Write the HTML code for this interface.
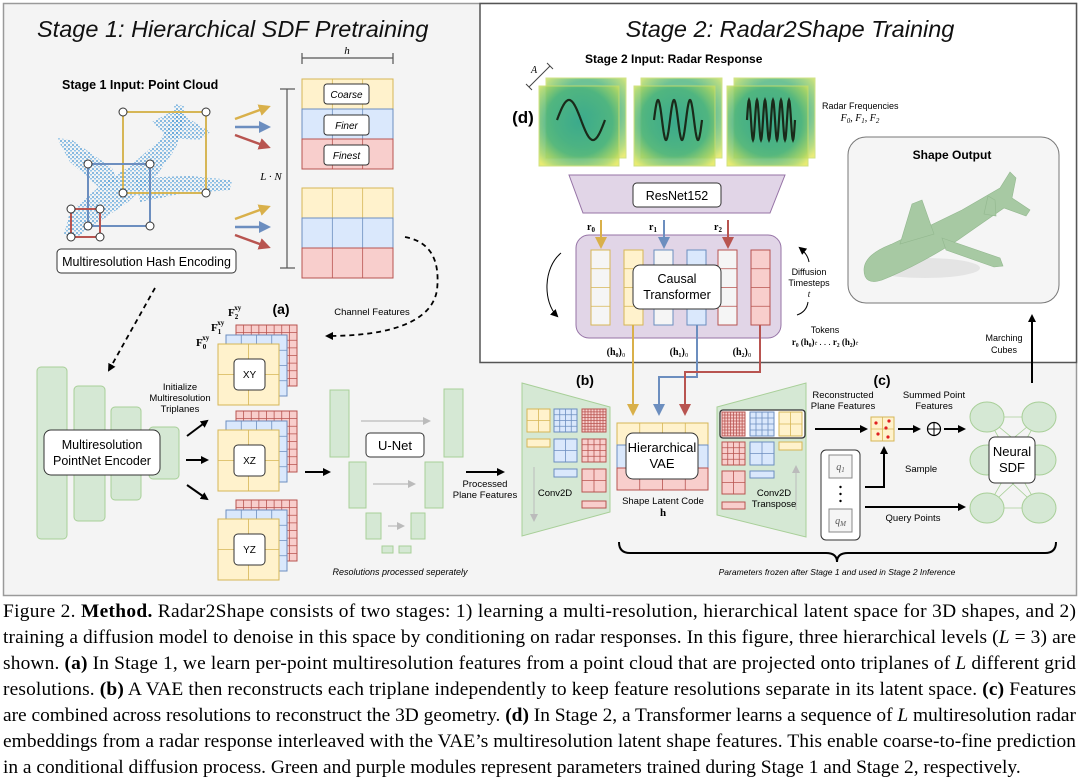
<!DOCTYPE html>
<html><head><meta charset="utf-8">
<style>
html,body{margin:0;padding:0;background:#fff;width:1080px;height:784px;overflow:hidden}
svg{display:block}
.s{font-family:"Liberation Sans",sans-serif}
.cap{font-family:"Liberation Serif",serif;font-size:19.4px;fill:#000}
</style></head><body>
<svg id="g" width="1080" height="784" viewBox="0 0 1080 784" xmlns="http://www.w3.org/2000/svg">
<defs>
<marker id="ak" markerWidth="8" markerHeight="8" refX="6" refY="4" orient="auto" markerUnits="userSpaceOnUse"><path d="M0,0 L8,4 L0,8 Z" fill="#000"/></marker>
<marker id="ag" markerWidth="8" markerHeight="8" refX="6" refY="4" orient="auto" markerUnits="userSpaceOnUse"><path d="M0,0 L8,4 L0,8 Z" fill="#bbb"/></marker>
<marker id="ay" markerWidth="12" markerHeight="12" refX="9" refY="6" orient="auto" markerUnits="userSpaceOnUse"><path d="M0,0 L12,6 L0,12 Z" fill="#d9b04a"/></marker>
<marker id="ab" markerWidth="12" markerHeight="12" refX="9" refY="6" orient="auto" markerUnits="userSpaceOnUse"><path d="M0,0 L12,6 L0,12 Z" fill="#6c8ebf"/></marker>
<marker id="ar" markerWidth="12" markerHeight="12" refX="9" refY="6" orient="auto" markerUnits="userSpaceOnUse"><path d="M0,0 L12,6 L0,12 Z" fill="#b85450"/></marker>
<radialGradient id="rad" cx="50%" cy="45%" r="70%">
<stop offset="0" stop-color="#35a88a"/><stop offset="0.6" stop-color="#4cb47c"/><stop offset="0.88" stop-color="#a9d563"/><stop offset="1" stop-color="#e4e85a"/></radialGradient>
<pattern id="pc" width="4" height="4" patternUnits="userSpaceOnUse"><circle cx="1" cy="1" r="0.9" fill="#3a8fd0"/><circle cx="3" cy="2.8" r="0.8" fill="#5aa8e0"/></pattern>
</defs>

<rect x="3.5" y="3.5" width="1073" height="592" fill="#f4f4f4" stroke="#9a9a9a" stroke-width="1.5"/>
<rect x="480" y="3.5" width="596.5" height="359" fill="#fff" stroke="#555" stroke-width="1.5"/>

<text x="37" y="37" class="s" font-size="23.5" font-style="italic" fill="#111">Stage 1: Hierarchical SDF Pretraining</text>
<text x="62" y="89" class="s" font-size="12.5" font-weight="bold">Stage 1 Input: Point Cloud</text>

<g fill="url(#pc)">
<path d="M64,234 L70,212 L100,186 L130,166 L160,140 L178,110 L186,116 L176,148 L156,176 L128,202 L96,224 L76,238 Z"/>
<path d="M57,138 L72,140 L112,168 L118,182 L100,188 L70,162 Z"/>
<path d="M135,178 L190,176 L232,180 L230,190 L180,194 L140,202 Z"/>
<path d="M152,122 L175,110 L210,132 L200,140 L170,138 Z"/>
<path d="M174,104 L184,106 L184,126 L174,128 Z"/>
</g>
<g fill="none" stroke-width="2">
<rect x="123" y="112" width="83" height="81" stroke="#d6b656"/>
<rect x="88" y="164" width="62" height="62" stroke="#6c8ebf"/>
<rect x="71" y="209" width="29" height="28" stroke="#b85450"/>
</g>
<g fill="#fff" stroke="#333" stroke-width="1">
<circle cx="123" cy="112" r="4"/><circle cx="206" cy="112" r="4"/><circle cx="206" cy="193" r="4"/><circle cx="123" cy="193" r="4"/>
<circle cx="88" cy="164" r="4"/><circle cx="150" cy="164" r="4"/><circle cx="150" cy="226" r="4"/><circle cx="88" cy="226" r="4"/>
<circle cx="71" cy="209" r="4"/><circle cx="100" cy="209" r="4"/><circle cx="100" cy="237" r="4"/><circle cx="71" cy="237" r="4"/>
</g>
<rect x="57" y="249" width="179" height="24" rx="4" fill="#fff" stroke="#333"/>
<text x="146.5" y="266" class="s" font-size="12.5" text-anchor="middle">Multiresolution Hash Encoding</text>

<g stroke-width="2.5" fill="none">
<line x1="235" y1="119" x2="268" y2="107" stroke="#d9b04a" marker-end="url(#ay)"/>
<line x1="235" y1="127" x2="268" y2="127" stroke="#6c8ebf" marker-end="url(#ab)"/>
<line x1="235" y1="135" x2="268" y2="147" stroke="#b85450" marker-end="url(#ar)"/>
<line x1="235" y1="219" x2="268" y2="207" stroke="#d9b04a" marker-end="url(#ay)"/>
<line x1="235" y1="227" x2="268" y2="227" stroke="#6c8ebf" marker-end="url(#ab)"/>
<line x1="235" y1="235" x2="268" y2="247" stroke="#b85450" marker-end="url(#ar)"/>
</g>
<g stroke="#555" stroke-width="1.2">
<line x1="287" y1="89" x2="287" y2="268"/><line x1="280" y1="89" x2="295" y2="89"/><line x1="280" y1="268" x2="295" y2="268"/>
<line x1="302" y1="58" x2="393" y2="58"/><line x1="302" y1="53" x2="302" y2="64"/><line x1="393" y1="53" x2="393" y2="64"/>
</g>
<text x="271" y="180" font-family="Liberation Serif,serif" font-style="italic" font-size="11" text-anchor="middle">L · N</text>
<text x="347" y="54" font-family="Liberation Serif,serif" font-style="italic" font-size="11" text-anchor="middle">h</text>
<g id="stacks"></g>
<g class="s" font-size="10" font-style="italic" text-anchor="middle">
<rect x="324" y="84" width="45" height="20" rx="3" fill="#fff" stroke="#333"/><text x="346.5" y="98">Coarse</text>
<rect x="324" y="115" width="45" height="20" rx="3" fill="#fff" stroke="#333"/><text x="346.5" y="129">Finer</text>
<rect x="324" y="145" width="45" height="20" rx="3" fill="#fff" stroke="#333"/><text x="346.5" y="159">Finest</text>
</g>

<path d="M155,288 L109,370" stroke="#000" stroke-width="1.8" stroke-dasharray="5,4" fill="none" marker-end="url(#ak)"/>
<path d="M405,237 C432,242 440,262 437,290 C432,322 390,336 327,336" stroke="#000" stroke-width="1.8" stroke-dasharray="5,4" fill="none" marker-end="url(#ak)"/>
<text x="372" y="315" class="s" font-size="9.5" text-anchor="middle">Channel Features</text>

<g fill="#d5e8d4" stroke="#a8cf98" stroke-width="1">
<rect x="37" y="367" width="30" height="172" rx="4"/>
<rect x="74" y="386" width="31" height="135" rx="4"/>
<rect x="111" y="407" width="30" height="93" rx="4"/>
<rect x="149" y="427" width="30" height="52" rx="4"/>
</g>
<rect x="44" y="430" width="116" height="45" rx="7" fill="#fff" stroke="#333"/>
<text x="102" y="449" class="s" font-size="12.5" text-anchor="middle">Multiresolution</text>
<text x="102" y="465" class="s" font-size="12.5" text-anchor="middle">PointNet Encoder</text>
<g class="s" font-size="9.5" text-anchor="middle"><text x="180" y="390">Initialize</text><text x="180" y="401">Multiresolution</text><text x="180" y="412">Triplanes</text></g>
<g stroke="#000" stroke-width="2" marker-end="url(#ak)">
<line x1="187" y1="436" x2="207" y2="421"/><line x1="186" y1="460" x2="207" y2="460"/><line x1="187" y1="485" x2="207" y2="499"/>
</g>
<g id="tri"></g>
<g font-family="Liberation Serif,serif" font-size="11" font-weight="bold">
<text x="196" y="346">F<tspan font-size="7" dy="3">0</tspan><tspan font-size="7" dy="-9" dx="-4">xy</tspan></text>
<text x="211" y="331">F<tspan font-size="7" dy="3">1</tspan><tspan font-size="7" dy="-9" dx="-4">xy</tspan></text>
<text x="228" y="316">F<tspan font-size="7" dy="3">2</tspan><tspan font-size="7" dy="-9" dx="-4">xy</tspan></text>
</g>
<text x="281" y="314" class="s" font-size="14" font-weight="bold" text-anchor="middle">(a)</text>

<line x1="305" y1="472" x2="329" y2="472" stroke="#000" stroke-width="2" marker-end="url(#ak)"/>
<g fill="#d5e8d4" stroke="#a8cf98">
<rect x="330" y="390" width="19" height="67"/><rect x="349" y="462" width="17" height="46"/><rect x="366" y="513" width="15" height="26"/><rect x="382" y="546" width="11" height="7"/>
<rect x="444" y="389" width="19" height="68"/><rect x="425" y="462" width="18" height="46"/><rect x="411" y="513" width="14" height="26"/><rect x="399" y="546" width="12" height="7"/>
</g>
<g stroke="#bbb" stroke-width="1.2" marker-end="url(#ag)">
<line x1="361" y1="421" x2="429" y2="421"/><line x1="373" y1="484" x2="414" y2="484"/><line x1="388" y1="526" x2="403" y2="526"/>
</g>
<rect x="366" y="433" width="58" height="24" rx="4" fill="#fff" stroke="#333"/>
<text x="395" y="450" class="s" font-size="13" text-anchor="middle">U-Net</text>
<text x="400" y="575" class="s" font-size="9" font-style="italic" text-anchor="middle">Resolutions processed seperately</text>
<line x1="466" y1="472" x2="503" y2="472" stroke="#000" stroke-width="2" marker-end="url(#ak)"/>
<g class="s" font-size="9.5" text-anchor="middle"><text x="485" y="487">Processed</text><text x="485" y="498">Plane Features</text></g>

<text x="585" y="385" class="s" font-size="14" font-weight="bold" text-anchor="middle">(b)</text>
<path d="M522,383 L610,407 L610,512 L522,536 Z" fill="#d5e8d4" stroke="#a8cf98"/>
<path d="M717,407 L806,383 L806,537 L717,515 Z" fill="#d5e8d4" stroke="#a8cf98"/>
<line x1="534" y1="467" x2="534" y2="520" stroke="#bbb" marker-end="url(#ag)"/>
<line x1="796" y1="510" x2="796" y2="467" stroke="#bbb" marker-end="url(#ag)"/>
<text x="555" y="496" class="s" font-size="9.5" text-anchor="middle">Conv2D</text>
<g class="s" font-size="9.5" text-anchor="middle"><text x="774" y="496">Conv2D</text><text x="774" y="507">Transpose</text></g>
<rect x="720" y="410" width="85" height="28" rx="3" fill="#fff" stroke="#333" stroke-width="1.3"/>
<g id="bgrid"></g>
<g id="vae"></g>
<rect x="626" y="433" width="72" height="46" rx="7" fill="#fff" stroke="#333"/>
<text x="662" y="452" class="s" font-size="13" text-anchor="middle">Hierarchical</text>
<text x="662" y="468" class="s" font-size="13" text-anchor="middle">VAE</text>
<text x="663" y="504" class="s" font-size="9.5" text-anchor="middle">Shape Latent Code</text>
<text x="663" y="516" font-family="Liberation Serif,serif" font-weight="bold" font-size="11" text-anchor="middle">h</text>

<text x="882" y="385" class="s" font-size="14" font-weight="bold" text-anchor="middle">(c)</text>
<g class="s" font-size="9.5" text-anchor="middle"><text x="843" y="398">Reconstructed</text><text x="843" y="409">Plane Features</text>
<text x="934" y="398">Summed Point</text><text x="934" y="409">Features</text></g>
<g stroke="#000" stroke-width="2" marker-end="url(#ak)">
<line x1="815" y1="429" x2="866" y2="429"/><line x1="898" y1="429" x2="919" y2="429"/><line x1="944" y1="429" x2="964" y2="429"/>
<line x1="865" y1="507" x2="964" y2="507"/>
<polyline points="865,487 884,487 884,448" fill="none"/>
</g>
<g id="samp"></g>
<circle cx="934" cy="429" r="6.5" fill="#fff" stroke="#000" stroke-width="1.2"/>
<line x1="927.5" y1="429" x2="940.5" y2="429" stroke="#000"/><line x1="934" y1="422.5" x2="934" y2="435.5" stroke="#000"/>
<rect x="821" y="450" width="39" height="90" rx="5" fill="#fff" stroke="#333"/>
<rect x="829" y="455" width="23" height="23" fill="#f5f5f5" stroke="#888"/>
<rect x="829" y="509" width="23" height="23" fill="#f5f5f5" stroke="#888"/>
<text x="840.5" y="470" font-family="Liberation Serif,serif" font-style="italic" font-size="10" text-anchor="middle" fill="#555">q<tspan font-size="7" dy="2">1</tspan></text>
<text x="840.5" y="524" font-family="Liberation Serif,serif" font-style="italic" font-size="10" text-anchor="middle" fill="#555">q<tspan font-size="7" dy="2">M</tspan></text>
<g fill="#000"><circle cx="840.5" cy="487" r="1.2"/><circle cx="840.5" cy="494" r="1.2"/><circle cx="840.5" cy="501" r="1.2"/></g>
<text x="905" y="472" class="s" font-size="9.5">Sample</text>
<text x="913" y="521" class="s" font-size="9.5" text-anchor="middle">Query Points</text>
<g stroke="#a8cf98" stroke-width="0.8" fill="none">
<line x1="987" y1="417" x2="1039" y2="460"/><line x1="987" y1="460" x2="1039" y2="417"/><line x1="987" y1="460" x2="1039" y2="508"/><line x1="987" y1="508" x2="1039" y2="460"/><line x1="987" y1="417" x2="1039" y2="508"/><line x1="987" y1="508" x2="1039" y2="417"/><line x1="1003" y1="417" x2="1023" y2="417"/><line x1="1003" y1="508" x2="1023" y2="508"/>
</g>
<g fill="#d5e8d4" stroke="#a8cf98">
<ellipse cx="987" cy="417" rx="17" ry="15"/><ellipse cx="1039" cy="417" rx="17" ry="15"/>
<ellipse cx="987" cy="460" rx="17" ry="15"/><ellipse cx="1039" cy="460" rx="17" ry="15"/>
<ellipse cx="987" cy="508" rx="17" ry="15"/><ellipse cx="1039" cy="508" rx="17" ry="15"/>
</g>
<rect x="989" y="437" width="46" height="46" rx="6" fill="#fff" stroke="#333"/>
<text x="1012" y="456" class="s" font-size="13" text-anchor="middle">Neural</text>
<text x="1012" y="472" class="s" font-size="13" text-anchor="middle">SDF</text>
<path d="M619,542 Q619,553 630,553 L826,553 Q837,553 837,562 Q837,553 848,553 L1045,553 Q1056,553 1056,542" fill="none" stroke="#000" stroke-width="2"/>
<text x="837" y="575" class="s" font-size="8.5" font-style="italic" text-anchor="middle">Parameters frozen after Stage 1 and used in Stage 2 Inference</text>

<text x="790" y="37" class="s" font-size="23.5" font-style="italic" text-anchor="middle" fill="#111">Stage 2: Radar2Shape Training</text>
<text x="585" y="63" class="s" font-size="12" font-weight="bold">Stage 2 Input: Radar Response</text>
<g stroke="#444" stroke-width="1"><line x1="529" y1="87" x2="550" y2="66"/><line x1="526" y1="84" x2="532" y2="90"/><line x1="547" y1="63" x2="553" y2="69"/></g>
<text x="531" y="73" font-family="Liberation Serif,serif" font-style="italic" font-size="10">A</text>
<g stroke="#c8dd6a" stroke-width="1">
<rect x="546" y="78" width="80" height="80" fill="url(#rad)" opacity="0.8"/>
<rect x="539" y="86" width="80" height="80" fill="url(#rad)" opacity="0.85"/>
<rect x="641" y="78" width="81" height="80" fill="url(#rad)" opacity="0.8"/>
<rect x="634" y="86" width="81" height="80" fill="url(#rad)" opacity="0.85"/>
<rect x="734" y="78" width="81" height="80" fill="url(#rad)" opacity="0.8"/>
<rect x="727" y="86" width="81" height="80" fill="url(#rad)" opacity="0.85"/>
</g>
<g id="waves" fill="none" stroke="#1a2a1a" stroke-width="2.2"></g>
<text x="523" y="123" class="s" font-size="17" font-weight="bold" text-anchor="middle">(d)</text>
<text x="822" y="109" class="s" font-size="9">Radar Frequencies</text>
<text x="860" y="121" font-family="Liberation Serif,serif" font-style="italic" font-size="10" text-anchor="middle">F<tspan font-size="7" dy="2">0</tspan><tspan dy="-2">, F</tspan><tspan font-size="7" dy="2">1</tspan><tspan dy="-2">, F</tspan><tspan font-size="7" dy="2">2</tspan></text>
<path d="M569,175 L785,175 L770,213 L583,213 Z" fill="#e1d5e7" stroke="#9673a6"/>
<rect x="633" y="183" width="88" height="24" rx="4" fill="#fff" stroke="#333"/>
<text x="677" y="200" class="s" font-size="12.5" text-anchor="middle">ResNet152</text>
<g font-family="Liberation Serif,serif" font-weight="bold" font-size="10" text-anchor="middle">
<text x="591" y="230">r<tspan font-size="7" dy="2">0</tspan></text><text x="653" y="230">r<tspan font-size="7" dy="2">1</tspan></text><text x="718" y="230">r<tspan font-size="7" dy="2">2</tspan></text></g>
<rect x="576" y="235" width="205" height="103" rx="13" fill="#e1d5e7" stroke="#9673a6"/>
<g id="tok"></g>
<g stroke-width="2" fill="none">
<line x1="601" y1="220" x2="601" y2="246" stroke="#d9b04a" marker-end="url(#ay)"/>
<line x1="664" y1="220" x2="664" y2="246" stroke="#6c8ebf" marker-end="url(#ab)"/>
<line x1="728" y1="220" x2="728" y2="246" stroke="#b85450" marker-end="url(#ar)"/>
<polyline points="633,325 633,413" stroke="#d9b04a" marker-end="url(#ay)"/>
<polyline points="697,325 697,377 659,377 659,413" stroke="#6c8ebf" marker-end="url(#ab)"/>
<polyline points="760,325 760,372 685,372 685,413" stroke="#b85450" marker-end="url(#ar)"/>
</g>
<rect x="633" y="265" width="88" height="44" rx="7" fill="#fff" stroke="#333"/>
<text x="677" y="283" class="s" font-size="12.5" text-anchor="middle">Causal</text>
<text x="677" y="299" class="s" font-size="12.5" text-anchor="middle">Transformer</text>
<path d="M561,253 C543,268 543,302 557,316" fill="none" stroke="#000" stroke-width="1" marker-end="url(#ak)"/>
<path d="M809,262 C808,256 805,252 800,248" fill="none" stroke="#000" stroke-width="1" marker-end="url(#ak)"/>
<path d="M808,302 C807,309 803,313 797,315" fill="none" stroke="#000" stroke-width="1"/>
<g class="s" font-size="9" text-anchor="middle"><text x="809" y="275">Diffusion</text><text x="809" y="286">Timesteps</text><text x="825" y="333">Tokens</text></g>
<text x="809" y="297" font-family="Liberation Serif,serif" font-style="italic" font-size="9" text-anchor="middle">t</text>
<text x="825" y="345" font-family="Liberation Serif,serif" font-size="9" text-anchor="middle"><tspan font-weight="bold">r₀ (h₀)</tspan><tspan font-style="italic">ₜ</tspan> . . . <tspan font-weight="bold">r₂ (h₂)</tspan><tspan font-style="italic">ₜ</tspan></text>
<g font-family="Liberation Serif,serif" font-size="10" text-anchor="middle">
<text x="616" y="355"><tspan font-weight="bold">(h₀)</tspan>₀</text><text x="679" y="355"><tspan font-weight="bold">(h₁)</tspan>₀</text><text x="742" y="355"><tspan font-weight="bold">(h₂)</tspan>₀</text></g>
<rect x="848" y="137" width="211" height="166" rx="18" fill="#f5f5f5" stroke="#777"/>
<text x="952" y="159" class="s" font-size="12" font-weight="bold" text-anchor="middle">Shape Output</text>
<ellipse cx="925" cy="268" rx="55" ry="10" fill="#ddd" opacity="0.7"/>
<g fill="#a7c9a3" stroke="#93b88f" stroke-width="0.6">
<path d="M864,270 C864,258 876,250 892,244 L962,210 L1000,188 L1010,172 L1016,178 L1012,198 L1030,210 L1026,216 L1004,208 L978,226 L958,240 C930,258 902,272 882,280 C870,284 864,280 864,270 Z"/>
<path d="M900,244 L912,204 L922,200 L934,234 Z"/>
<path d="M942,238 L1000,258 L1003,266 L994,267 L946,250 Z"/>
<path d="M984,214 L988,196 L995,200 L996,216 Z"/>
</g>
<line x1="1032" y1="383" x2="1032" y2="316" stroke="#000" stroke-width="2" marker-end="url(#ak)"/>
<g class="s" font-size="9" text-anchor="middle"><text x="1004" y="341">Marching</text><text x="1004" y="353">Cubes</text></g>

<g class="cap">
<text x="3" y="617" textLength="1073" lengthAdjust="spacing">Figure 2.  <tspan font-weight="bold">Method.</tspan>  Radar2Shape consists of two stages: 1) learning a multi-resolution, hierarchical latent space for 3D shapes, and 2)</text>
<text x="3" y="643" textLength="1073" lengthAdjust="spacing">training a diffusion model to denoise in this space by conditioning on radar responses. In this figure, three hierarchical levels (<tspan font-style="italic">L</tspan> = 3) are</text>
<text x="3" y="669" textLength="1073" lengthAdjust="spacing">shown. <tspan font-weight="bold">(a)</tspan> In Stage 1, we learn per-point multiresolution features from a point cloud that are projected onto triplanes of <tspan font-style="italic">L</tspan> different grid</text>
<text x="3" y="695" textLength="1073" lengthAdjust="spacing">resolutions. <tspan font-weight="bold">(b)</tspan> A VAE then reconstructs each triplane independently to keep feature resolutions separate in its latent space. <tspan font-weight="bold">(c)</tspan> Features</text>
<text x="3" y="721" textLength="1073" lengthAdjust="spacing">are combined across resolutions to reconstruct the 3D geometry. <tspan font-weight="bold">(d)</tspan> In Stage 2, a Transformer learns a sequence of <tspan font-style="italic">L</tspan> multiresolution radar</text>
<text x="3" y="747" textLength="1073" lengthAdjust="spacing">embeddings from a radar response interleaved with the VAE’s multiresolution latent shape features. This enable coarse-to-fine prediction</text>
<text x="3" y="773">in a conditional diffusion process. Green and purple modules represent parameters trained during Stage 1 and Stage 2, respectively.</text>
</g>
</svg>
<script>
(function(){
var NS="http://www.w3.org/2000/svg";
var Y=["#fff2cc","#d6b656"],B=["#dae8fc","#6c8ebf"],R=["#f8cecc","#b85450"];
function el(p,t,a){var e=document.createElementNS(NS,t);for(var k in a)e.setAttribute(k,a[k]);p.appendChild(e);return e;}
function grid(p,x,y,w,h,nx,ny,c){el(p,"rect",{x:x,y:y,width:w,height:h,fill:c[0],stroke:c[1],"stroke-width":1});
 for(var i=1;i<nx;i++)el(p,"line",{x1:x+w*i/nx,y1:y,x2:x+w*i/nx,y2:y+h,stroke:c[1],"stroke-width":0.8});
 for(var j=1;j<ny;j++)el(p,"line",{x1:x,y1:y+h*j/ny,x2:x+w,y2:y+h*j/ny,stroke:c[1],"stroke-width":0.8});}
var st=document.getElementById("stacks");
[79,188].forEach(function(y0){grid(st,302,y0,91,30,3,1,Y);grid(st,302,y0+30,91,30,3,1,B);grid(st,302,y0+60,91,30,3,1,R);});
var tr=document.getElementById("tri");
[[344,"XY"],[430,"XZ"],[519,"YZ"]].forEach(function(a){var y=a[0];
 grid(tr,236,y-19,61,61,8,8,R);grid(tr,226,y-9,61,61,4,4,B);grid(tr,218,y,61,61,2,2,Y);
 el(tr,"rect",{x:234,y:y+15,width:31,height:31,rx:4,fill:"#fff",stroke:"#333"});
 var t=el(tr,"text",{x:249.5,y:y+34,"text-anchor":"middle","font-size":10,"font-family":"Liberation Sans,sans-serif"});t.textContent=a[1];});
var bg=document.getElementById("bgrid");
grid(bg,527,409,23,23,2,2,Y);grid(bg,554,409,23,23,4,4,B);grid(bg,582,409,24,23,8,8,R);
grid(bg,527,439,23,8,1,1,Y);grid(bg,554,439,23,23,2,2,B);grid(bg,582,439,24,23,4,4,R);
grid(bg,554,469,23,8,1,1,B);grid(bg,582,469,24,23,2,2,R);grid(bg,582,501,24,7,1,1,R);
grid(bg,722,412,23,24,8,8,R);grid(bg,750,412,24,24,4,4,B);grid(bg,779,412,23,24,2,2,Y);
grid(bg,722,442,23,23,4,4,R);grid(bg,750,442,24,23,2,2,B);grid(bg,779,442,23,8,1,1,Y);
grid(bg,722,471,23,23,2,2,R);grid(bg,750,471,24,7,1,1,B);grid(bg,722,502,23,7,1,1,R);
var v=document.getElementById("vae");
grid(v,617,423,91,22,4,1,Y);grid(v,617,445,91,23,4,1,B);grid(v,617,468,91,22,4,1,R);
var sp=document.getElementById("samp");
grid(sp,871,417,23,24,2,2,Y);[[876,423],[889,421],[878,434],[888,437],[886,428]].forEach(function(p){el(sp,"circle",{cx:p[0],cy:p[1],r:1.6,fill:"#e02020"});});
var tk=document.getElementById("tok");
[[591,0,Y],[624,1,Y],[654,0,B],[687,1,B],[718,0,R],[751,1,R]].forEach(function(a){
 var c=a[1]?a[2]:["#f5f5f5",a[2][1]];grid(tk,a[0],250,19,75,1,4,c);});
var wv=document.getElementById("waves");
[[557,605,1,120],[654,702,3,120],[747,795,6,120]].forEach(function(a){var d="";
 for(var i=0;i<=120;i++){var x=a[0]+(a[1]-a[0])*i/120,y=a[3]-20*Math.sin(2*Math.PI*a[2]*i/120);d+=(i?"L":"M")+x.toFixed(1)+","+y.toFixed(1);}
 el(wv,"path",{d:d});});
})();
</script>
</body></html>
